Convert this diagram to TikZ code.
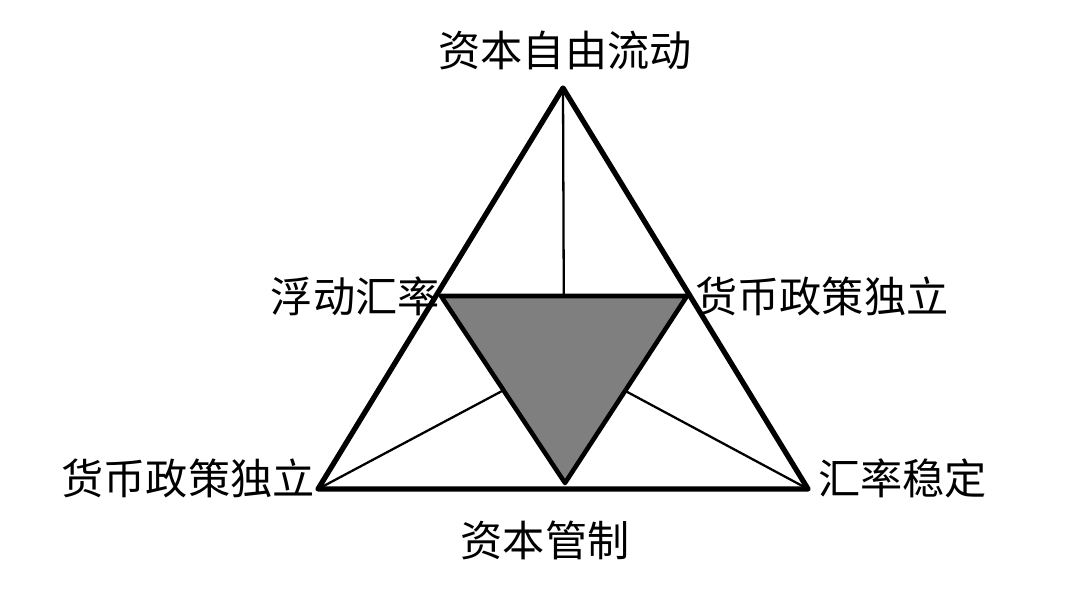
\documentclass[tikz,border=0pt]{standalone}
\usepackage{fontspec}
\usepackage{xcolor}
\newfontfamily\cjk{Noto Sans CJK SC}
\definecolor{shade}{HTML}{7F7F7F}
\newcommand{\corner}[4]{\node[#4, inner sep=0pt, font=\cjk\fontsize{24pt}{28pt}\selectfont] (#1) at #2 {#3}}

\begin{document}
\begin{tikzpicture}
	\useasboundingbox (0mm,0mm) rectangle (216mm,-121.8mm);
	\coordinate (A) at (112.6mm,-17.6mm);
	\coordinate (B) at (63.6mm,-97.8mm);
	\coordinate (C) at (161.6mm,-97.8mm);
	\coordinate (P) at (88.2mm,-59.2mm);
	\coordinate (Q) at (137.4mm,-59.2mm);
	\coordinate (R) at (113mm,-96.6mm);
	\coordinate (O) at (112.8mm,-71.6mm);
	\draw[line width=1.3pt] (A) -- (O);
	\draw[line width=1.3pt] (B) -- (O);
	\draw[line width=1.3pt] (C) -- (O);
	\draw[line width=2.6pt, fill=shade, line join=round] (P) -- (Q) -- (R) -- cycle;
	\draw[line width=3pt, line join=round] (A) -- (B) -- (C) -- cycle;
	\corner{top}{(113mm,-10mm)}{资本自由流动}{};
	\corner{float}{(88mm,-59.2mm)}{浮动汇率}{left};
	\corner{indep}{(139mm,-59.2mm)}{货币政策独立}{right};
	\corner{indepb}{(63mm,-95.6mm)}{货币政策独立}{left};
	\corner{stable}{(163.6mm,-95.6mm)}{汇率稳定}{right};
	\corner{ctrl}{(109mm,-108mm)}{资本管制}{};
\end{tikzpicture}
\end{document}
